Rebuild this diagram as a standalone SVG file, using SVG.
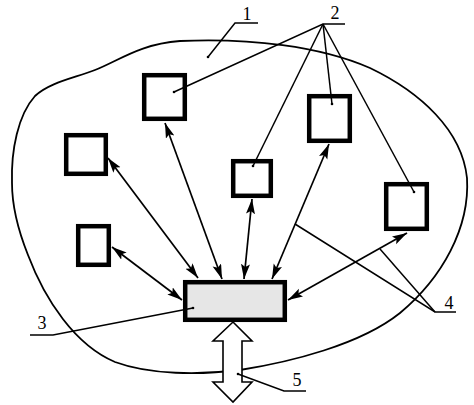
<svg xmlns="http://www.w3.org/2000/svg" width="474" height="405" viewBox="0 0 474 405">
<style>
.box{fill:#fff;stroke:#000;stroke-width:4.5}
.ctl{fill:#e6e6e6;stroke:#000;stroke-width:4.5}
.arr{fill:none;stroke:#000;stroke-width:1.7;marker-start:url(#ah);marker-end:url(#ah)}
.ld{fill:none;stroke:#000;stroke-width:1.5}
.lbl{font-family:"Liberation Serif","Times New Roman",serif;font-size:18px;fill:#000;text-anchor:middle}
.dot{fill:#000}
</style>
<defs>
<marker id="ah" markerUnits="userSpaceOnUse" markerWidth="16" markerHeight="10" refX="15" refY="4.5" orient="auto-start-reverse">
<path d="M0,0 L15,4.5 L0,9 L3,4.5 Z" fill="#000"/>
</marker>
</defs>
<path id="region" d="M12,183 C11,150 18,115 35,96 C50,82 75,78 95,70 C120,60 140,44 180,41 C250,38 320,46 370,68 C420,92 462,130 467,178 C470,228 442,278 400,313 C360,345 290,362 240,370 C200,375 150,375 115,362 C75,345 45,300 28,255 C18,230 12,205 12,183 Z" fill="none" stroke="#000" stroke-width="1.8"/>
<g id="connectors">
<line class="arr" x1="112" y1="247" x2="182" y2="300"/>
<line class="arr" x1="108" y1="158" x2="198" y2="278"/>
<line class="arr" x1="165" y1="123" x2="222" y2="279"/>
<line class="arr" x1="252" y1="199" x2="244" y2="279"/>
<line class="arr" x1="329" y1="144" x2="272" y2="279"/>
<line class="arr" x1="407" y1="233" x2="288" y2="300"/>
</g>
<g id="node-a"><rect class="box" x="144.2" y="75.2" width="40.6" height="43.6"/></g>
<g id="node-b"><rect class="box" x="66.2" y="135.2" width="39.6" height="38.6"/></g>
<g id="node-c"><rect class="box" x="233.2" y="161.2" width="37.6" height="34.6"/></g>
<g id="node-d"><rect class="box" x="309.2" y="96.2" width="40.6" height="44.6"/></g>
<g id="node-e"><rect class="box" x="386.2" y="184.2" width="40.6" height="44.6"/></g>
<g id="node-f"><rect class="box" x="78.2" y="226.2" width="30.6" height="38.6"/></g>
<g id="node-center"><rect class="ctl" x="185.2" y="282.2" width="99.6" height="37.6"/></g>
<g id="node-bus"><polygon points="233,322 252,341 242,341 242,382 252,382 233,402 213,382 223,382 223,341 213,341" fill="#fff" stroke="#000" stroke-width="1.6"/></g>
<g id="labels">
<polyline class="ld" points="258,23 235,23 208,57"/><circle class="dot" cx="208" cy="57" r="1.3"/>
<text class="lbl" x="247" y="20">1</text>
<polyline class="ld" points="345,24 323,24 174,92"/><circle class="dot" cx="174" cy="92" r="1.3"/>
<line class="ld" x1="323" y1="24" x2="253" y2="166"/><circle class="dot" cx="253" cy="166" r="1.3"/>
<line class="ld" x1="323" y1="24" x2="332" y2="104"/><circle class="dot" cx="332" cy="104" r="1.3"/>
<line class="ld" x1="323" y1="24" x2="414" y2="192"/><circle class="dot" cx="414" cy="192" r="1.3"/>
<text class="lbl" x="335" y="19">2</text>
<polyline class="ld" points="30,335 53,335 193,308"/><circle class="dot" cx="193" cy="308" r="1.3"/>
<text class="lbl" x="42" y="329">3</text>
<polyline class="ld" points="456,312 435,312 295,224"/>
<line class="ld" x1="435" y1="312" x2="380" y2="249"/>
<text class="lbl" x="449" y="309">4</text>
<polyline class="ld" points="306,391 284,391 238,374"/><circle class="dot" cx="238" cy="374" r="1.3"/>
<text class="lbl" x="297" y="386">5</text>
</g>
</svg>
